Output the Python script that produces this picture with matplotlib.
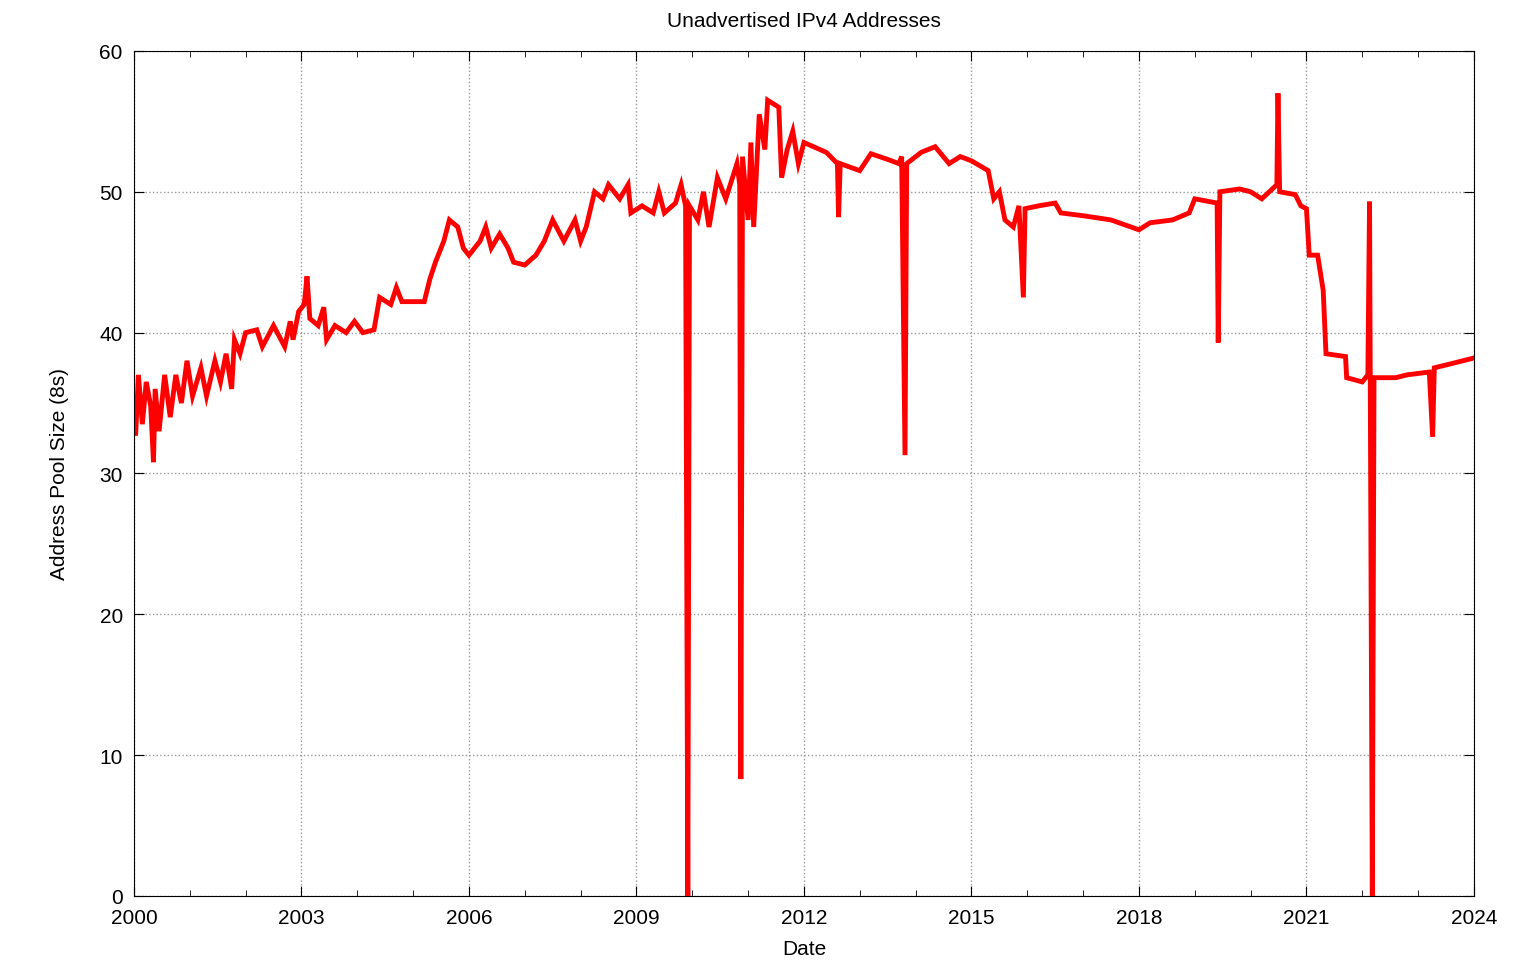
import matplotlib
matplotlib.use("Agg")
import matplotlib.pyplot as plt
from matplotlib.ticker import FixedLocator, MultipleLocator

plt.rcParams['font.family'] = ['Liberation Sans', 'DejaVu Sans']

years = [2000.00,2000.03,2000.08,2000.15,2000.22,2000.30,2000.35,2000.38,2000.45,2000.55,2000.65,2000.75,2000.85,2000.95,
2001.05,2001.2,2001.3,2001.45,2001.55,2001.65,2001.75,2001.8,2001.9,2002.0,2002.2,2002.3,2002.5,2002.7,2002.8,2002.85,2002.95,
2003.05,2003.1,2003.15,2003.3,2003.4,2003.45,2003.6,2003.8,2003.95,2004.1,2004.3,2004.4,2004.6,2004.7,2004.8,2005.2,2005.3,
2005.4,2005.55,2005.65,2005.8,2005.9,2006.0,2006.2,2006.3,2006.4,2006.55,2006.7,2006.8,2007.0,2007.2,2007.35,2007.5,2007.7,
2007.9,2008.0,2008.1,2008.25,2008.4,2008.5,2008.7,2008.85,2008.9,2009.1,2009.3,2009.4,2009.5,2009.7,2009.8,2009.88,2009.92,
2009.95,2010.1,2010.2,2010.3,2010.45,2010.6,2010.8,2010.85,2010.87,2010.9,2011.0,2011.05,2011.1,2011.2,2011.3,2011.35,2011.55,
2011.6,2011.7,2011.8,2011.9,2012.0,2012.4,2012.6,2012.62,2012.65,2013.0,2013.2,2013.5,2013.7,2013.75,2013.81,2013.84,2014.1,
2014.35,2014.6,2014.8,2015.0,2015.3,2015.4,2015.5,2015.6,2015.75,2015.85,2015.93,2015.96,2016.2,2016.5,2016.6,2017.0,2017.5,
2018.0,2018.2,2018.6,2018.9,2019.0,2019.4,2019.42,2019.45,2019.8,2020.0,2020.2,2020.47,2020.49,2020.52,2020.8,2020.9,2021.0,
2021.05,2021.2,2021.3,2021.35,2021.7,2021.72,2022.0,2022.1,2022.13,2022.18,2022.21,2022.6,2022.8,2023.2,2023.26,2023.29,
2023.6,2024.0]
values = [35.0,32.7,37.0,33.5,36.5,34.8,30.8,36.0,33.0,37.0,34.0,37.0,35.0,38.0,
35.5,37.5,35.5,38.0,36.5,38.5,36.0,39.5,38.5,40.0,40.2,39.0,40.5,39.0,40.8,39.5,41.5,
42.0,44.0,41.0,40.5,41.8,39.5,40.5,40.0,40.8,40.0,40.2,42.5,42.0,43.2,42.2,42.2,43.8,
45.0,46.5,48.0,47.5,46.0,45.5,46.5,47.5,46.0,47.0,46.0,45.0,44.8,45.5,46.5,48.0,46.5,
48.0,46.5,47.5,50.0,49.5,50.5,49.5,50.5,48.5,49.0,48.5,50.0,48.5,49.2,50.5,49.0,0.0,
49.0,48.0,50.0,47.5,51.0,49.5,52.0,50.5,8.3,52.5,48.0,53.5,47.5,55.5,53.0,56.5,56.0,
51.0,53.0,54.3,52.0,53.5,52.8,52.0,48.2,52.0,51.5,52.7,52.3,52.0,52.5,31.3,52.0,52.8,
53.2,52.0,52.5,52.2,51.5,49.5,50.0,48.0,47.5,49.0,42.5,48.8,49.0,49.2,48.5,48.3,48.0,
47.3,47.8,48.0,48.5,49.5,49.2,39.3,50.0,50.2,50.0,49.5,50.5,57.0,50.0,49.8,49.0,48.8,
45.5,45.5,43.0,38.5,38.3,36.8,36.5,37.0,49.3,0.0,36.8,36.8,37.0,37.2,32.6,37.5,
37.8,38.2]
xticks = list(range(2000, 2025, 3))

fig = plt.figure(figsize=(15.36, 9.62), dpi=100)
ax = fig.add_axes([0.0872, 0.0676, 0.8724, 0.8784])
ax.plot(years, values, color='red', lw=3.5, solid_joinstyle='miter')
ax.set_xlim(2000, 2024)
ax.set_ylim(0, 60)
ax.xaxis.set_major_locator(FixedLocator(xticks))
ax.set_xticklabels([str(t) for t in xticks])
ax.xaxis.set_minor_locator(MultipleLocator(1))
ax.yaxis.set_major_locator(MultipleLocator(10))
ax.tick_params(direction='in', top=True, right=True, which='both', labelsize=15)
ax.tick_params(which='major', length=7)
ax.tick_params(which='minor', length=4)
ax.tick_params(axis='x', which='major', pad=9)
ax.tick_params(axis='y', which='major', pad=8)
ax.grid(True, linestyle=':', color='#999999', lw=1)
ax.set_xlabel('Date', fontsize=15, labelpad=8)
ax.set_ylabel('Address Pool Size (8s)', fontsize=15, labelpad=22)
ax.set_title('Unadvertised IPv4 Addresses', fontsize=15, pad=18)
fig.savefig('out.png', dpi=100)
